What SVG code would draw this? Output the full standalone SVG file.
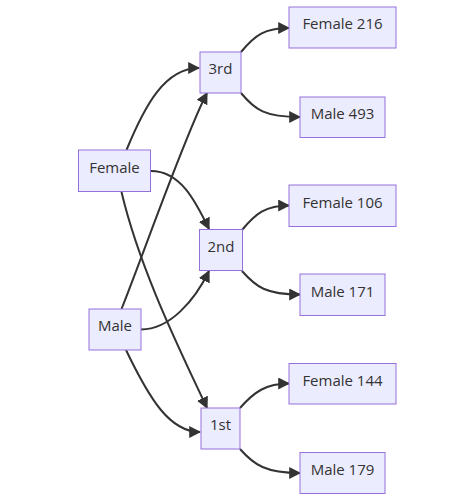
<svg xmlns="http://www.w3.org/2000/svg" width="474" height="501" viewBox="0 0 474 501">
<style>
.node rect{fill:#ECECFF;stroke:#9370DB;stroke-width:1}
.node text{font-family:"Open Sans","Liberation Sans",sans-serif;font-size:15px;fill:#333;text-anchor:middle}
.edge{fill:none;stroke:#333;stroke-width:2}
</style>
<defs>
<marker id="arrow" viewBox="0 0 10 10" refX="9" refY="5" markerUnits="userSpaceOnUse" markerWidth="12" markerHeight="12" orient="auto">
<path d="M0,0 L10,5 L0,10 z" fill="#333"/>
</marker>
</defs>
<rect width="474" height="501" fill="#fff"/>
<g id="edges">
<path class="edge" marker-end="url(#arrow)" d="M126.5,150 C145,105 165,68 199,68"/>
<path class="edge" marker-end="url(#arrow)" d="M121.5,309 C145,250 185,135 207,93"/>
<path class="edge" marker-end="url(#arrow)" d="M151,171 C180,171 195,200 209,229"/>
<path class="edge" marker-end="url(#arrow)" d="M141,329.5 C170,329.5 195,300 209,271"/>
<path class="edge" marker-end="url(#arrow)" d="M121.5,192 C140,270 180,350 207,408"/>
<path class="edge" marker-end="url(#arrow)" d="M126,350 C150,400 170,432 200,432"/>
<path class="edge" marker-end="url(#arrow)" d="M241,52 C255,35 265,28 289,28"/>
<path class="edge" marker-end="url(#arrow)" d="M241,93 C255,110 265,117 300,117"/>
<path class="edge" marker-end="url(#arrow)" d="M242,230 C256,213 266,205.5 289,205.5"/>
<path class="edge" marker-end="url(#arrow)" d="M242,271 C256,287 266,294.5 300,294.5"/>
<path class="edge" marker-end="url(#arrow)" d="M240,408 C254,392 266,383.5 289,383.5"/>
<path class="edge" marker-end="url(#arrow)" d="M240,449 C254,465 266,473 300,473"/>
</g>
<g id="female" class="node"><rect x="78.5" y="150" width="72" height="41.5"/><text x="114.5" y="172.5">Female</text></g>
<g id="male" class="node"><rect x="89" y="309" width="52" height="41"/><text x="115" y="331.25">Male</text></g>
<g id="third" class="node"><rect x="200" y="52" width="41" height="41"/><text x="220.5" y="74.25">3rd</text></g>
<g id="second" class="node"><rect x="199.5" y="229.5" width="43" height="41"/><text x="221" y="251.75">2nd</text></g>
<g id="first" class="node"><rect x="201" y="408" width="39" height="41"/><text x="220.5" y="430.25">1st</text></g>
<g id="female216" class="node"><rect x="289" y="7" width="107" height="41"/><text x="342.5" y="29.25">Female 216</text></g>
<g id="male493" class="node"><rect x="300" y="97" width="85" height="40.5"/><text x="342.5" y="119">Male 493</text></g>
<g id="female106" class="node"><rect x="289" y="185" width="107" height="41.5"/><text x="342.5" y="207.5">Female 106</text></g>
<g id="male171" class="node"><rect x="300" y="274" width="85" height="41.5"/><text x="342.5" y="296.5">Male 171</text></g>
<g id="female144" class="node"><rect x="289" y="363.5" width="107" height="40.5"/><text x="342.5" y="385.5">Female 144</text></g>
<g id="male179" class="node"><rect x="300" y="452.5" width="85" height="41"/><text x="342.5" y="474.75">Male 179</text></g>
</svg>
